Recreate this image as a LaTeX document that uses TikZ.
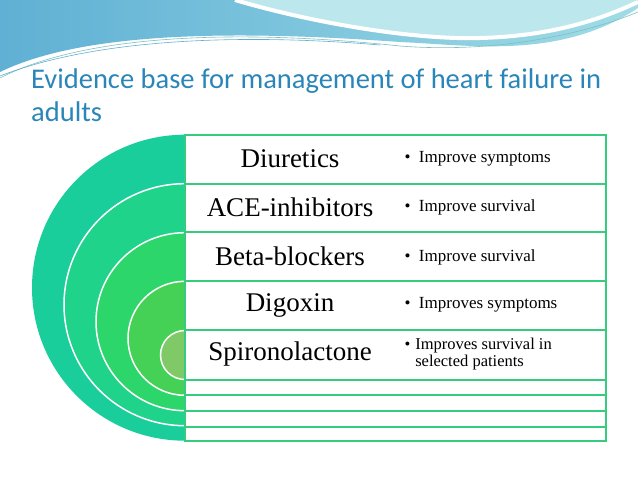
\documentclass[tikz,border=0pt]{standalone}
\usepackage{fontspec}
\setmainfont{Liberation Serif}
\newfontfamily\titlefont{Carlito}
\begin{document}
\begin{tikzpicture}[x=1pt,y=-1pt]
\definecolor{c0}{HTML}{1ACE9C}
\definecolor{c1}{HTML}{1FD48A}
\definecolor{c2}{HTML}{2DD66A}
\definecolor{c3}{HTML}{44D155}
\definecolor{c4}{HTML}{7FCA66}
\definecolor{rowline}{HTML}{35CC7E}
\definecolor{titleblue}{HTML}{2A86B8}
\definecolor{waveA}{HTML}{5FB0D4}
\definecolor{waveB}{HTML}{9FDCE6}
\tikzset{lab/.style={font=\fontsize{27}{29}\selectfont, anchor=center},
  bul/.style={font=\fontsize{17}{18}\selectfont, anchor=west, align=left},
  rowbox/.style={draw=rowline, line width=1.3pt, fill=white}}
\useasboundingbox (0,0) rectangle (638,478);
\fill[white] (0,0) rectangle (638,478);
% waves
\shade[left color=waveA, right color=waveB] (0,0) -- (638,0) -- (638,8) .. controls (560,60) and (470,45) .. (400,42) .. controls (260,32) and (90,28) .. (0,72) -- cycle;
\fill[waveB!70!white] (240,0) .. controls (320,25) and (420,40) .. (480,38) .. controls (560,36) and (610,15) .. (638,0) -- cycle;
\draw[white, line width=4pt] (235,0) .. controls (320,25) and (420,40) .. (480,38) .. controls (560,36) and (610,15) .. (638,2);
\draw[teal!50, line width=0.6pt] (0,78) .. controls (90,32) and (250,30) .. (400,46) .. controls (500,54) and (590,32) .. (638,12);
\draw[waveA, line width=0.6pt] (0,76) .. controls (100,37) and (250,34) .. (380,45);
% title
\node[anchor=north west, align=left, text=titleblue, inner sep=0pt, font=\titlefont\fontsize{28.5}{33}\selectfont] (title) at (31,69) {Evidence base for management of heart failure in\\adults};
% semicircles
\begin{scope}
\clip (0,0) rectangle (185,478);
\fill[c0] (185,287.7) circle[radius=153pt];
\filldraw[fill=c1, draw=white, line width=1.5pt] (185,304.7) circle[radius=121pt];
\filldraw[fill=c2, draw=white, line width=1.5pt] (185,321.7) circle[radius=89pt];
\filldraw[fill=c3, draw=white, line width=1.5pt] (185,338.3) circle[radius=57pt];
\filldraw[fill=c4, draw=white, line width=1.5pt] (185,355) circle[radius=24.5pt];
\end{scope}
% rows
\foreach \a/\b in {135/184,184/232,232/281,281/330,330/380,380/395,395/411,411/427,427/441}
  \draw[rowbox] (185,\a) rectangle (606,\b);
\node[lab] (l1) at (290,159) {Diuretics};
\node[lab] (l2) at (290,207) {ACE-inhibitors};
\node[lab] (l3) at (290,256) {Beta-blockers};
\node[lab] (l4) at (290,305) {Digoxin};
\node[lab] (l5) at (290,354) {Spironolactone};
\node[bul] (b1) at (401,159) {\textbullet\hspace{0.5em}Improve symptoms};
\node[bul] (b2) at (401,207) {\textbullet\hspace{0.5em}Improve survival};
\node[bul] (b3) at (401,257) {\textbullet\hspace{0.5em}Improve survival};
\node[bul] (b4) at (401,305) {\textbullet\hspace{0.5em}Improves symptoms};
\node[bul, font=\fontsize{16.5}{17}\selectfont] (b5) at (401,354) {\textbullet\hspace{0.3em}Improves survival in\\\hphantom{\textbullet\hspace{0.3em}}selected patients};
\end{tikzpicture}
\end{document}
